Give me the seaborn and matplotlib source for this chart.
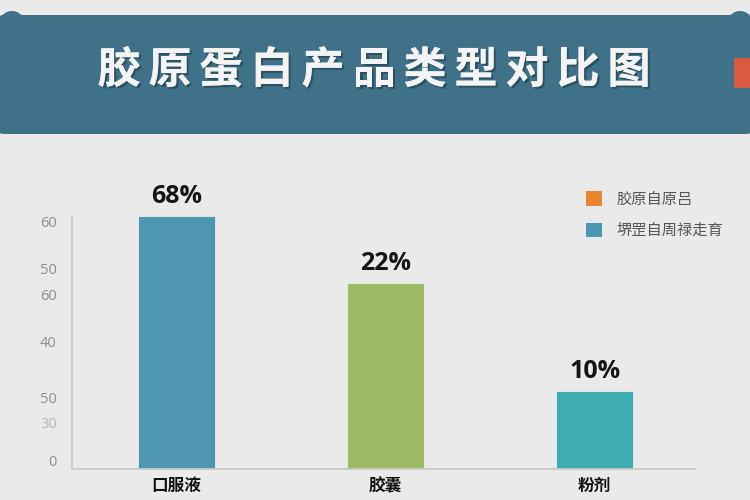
import matplotlib
matplotlib.use("Agg")
import matplotlib.pyplot as plt
import seaborn as sns
import pandas as pd
from matplotlib.patches import FancyBboxPatch, Rectangle, Circle, Patch
import matplotlib.patheffects as pe

# ---- data ----
title_text = "胶原蛋白产品类型对比图"
categories = ["口服液", "胶囊", "粉剂"]
share_labels = [68, 22, 10]          # printed percentages
bar_heights = [68, 50, 21]           # bar heights as drawn in the picture
bar_colors = ["#4f97b1", "#9dba64", "#3fadb0"]
legend_labels = ["胶原自原吕", "堺罡自周禄走育"]
legend_colors = ["#e9852d", "#4a97b5"]
ytick_values = [66.4, 53.8, 46.8, 34.4, 19.1, 12.4, 2.4]
ytick_labels = ["60", "50", "60", "40", "50", "30", "0"]

BG = "#eaeaea"
sns.set_theme(style="white")
plt.rcParams["font.family"] = ["Noto Sans CJK SC", "DejaVu Sans"]

fig = plt.figure(figsize=(7.5, 5), dpi=100, facecolor=BG)

# background / banner layer in pixel coordinates
bg = fig.add_axes([0, 0, 1, 1], zorder=0)
bg.set_xlim(0, 750)
bg.set_ylim(500, 0)
bg.axis("off")
banner_color = "#3f7189"
bg.add_patch(FancyBboxPatch((-6, 15), 762, 119, boxstyle="round,pad=0,rounding_size=10",
                            facecolor=banner_color, edgecolor="none"))
bg.add_patch(Circle((12, 24), 13, facecolor=banner_color, edgecolor="none"))
bg.add_patch(Circle((740, 24), 13, facecolor=banner_color, edgecolor="none"))
bg.add_patch(Rectangle((734, 58), 16, 30, facecolor="#d95a42", edgecolor="none"))
for i, ch in enumerate(title_text):
    bg.text(119 + i * 51, 70, ch, ha="center", va="center", color="#f4f4f4",
            fontsize=31, fontweight="bold", family=["Noto Sans CJK SC", "DejaVu Sans"],
            path_effects=[pe.withSimplePatchShadow(offset=(1.5, -1.5), shadow_rgbFace="#1e3a48", alpha=0.6),
                          pe.Normal()])

# main chart
ax = fig.add_axes([72 / 750, 1 - 469 / 500, (695 - 72) / 750, (469 - 216) / 500], zorder=1)
ax.set_facecolor("none")
df = pd.DataFrame({"category": categories, "height": bar_heights})
sns.barplot(data=df, x="category", y="height", hue="category", palette=bar_colors,
            width=0.37, legend=False, ax=ax, saturation=1,
            edgecolor="#e4eef0", linewidth=0.6)
ax.set_xlim(-0.5, 2.48)
ax.set_ylim(0, 68)
ax.set_xlabel("")
ax.set_ylabel("")
for s in ["top", "right"]:
    ax.spines[s].set_visible(False)
for s in ["left", "bottom"]:
    ax.spines[s].set_color("#c9c9c9")
    ax.spines[s].set_linewidth(1.3)

ax.set_yticks(ytick_values)
ax.set_yticklabels(ytick_labels)
ax.tick_params(axis="y", length=0, pad=11, labelsize=10.5, labelcolor="#8c8c8c")
for lab in ax.get_yticklabels():
    lab.set_family(["Open Sans", "DejaVu Sans"])
ax.get_yticklabels()[5].set_color("#b5b5b5")

ax.tick_params(axis="x", length=0, pad=6, labelsize=12)
for lab in ax.get_xticklabels():
    lab.set_fontweight("bold")
    lab.set_color("#111111")

for i, (h, v) in enumerate(zip(bar_heights, share_labels)):
    ax.annotate(f"{v}%", (i, h), xytext=(0, 9), textcoords="offset points",
                ha="center", va="baseline", fontsize=18, fontweight="bold",
                color="#151515", family=["Open Sans", "DejaVu Sans"])

handles = [Patch(facecolor=c, edgecolor="none") for c in legend_colors]
fig.legend(handles, legend_labels, loc="upper left", bbox_to_anchor=(578 / 750, 1 - 183 / 500),
           frameon=False, fontsize=11, handlelength=1.1, handleheight=1.1,
           handletextpad=0.9, labelspacing=0.95, borderpad=0, labelcolor="#555555")

fig.savefig("out.png", dpi=100, facecolor=BG)
